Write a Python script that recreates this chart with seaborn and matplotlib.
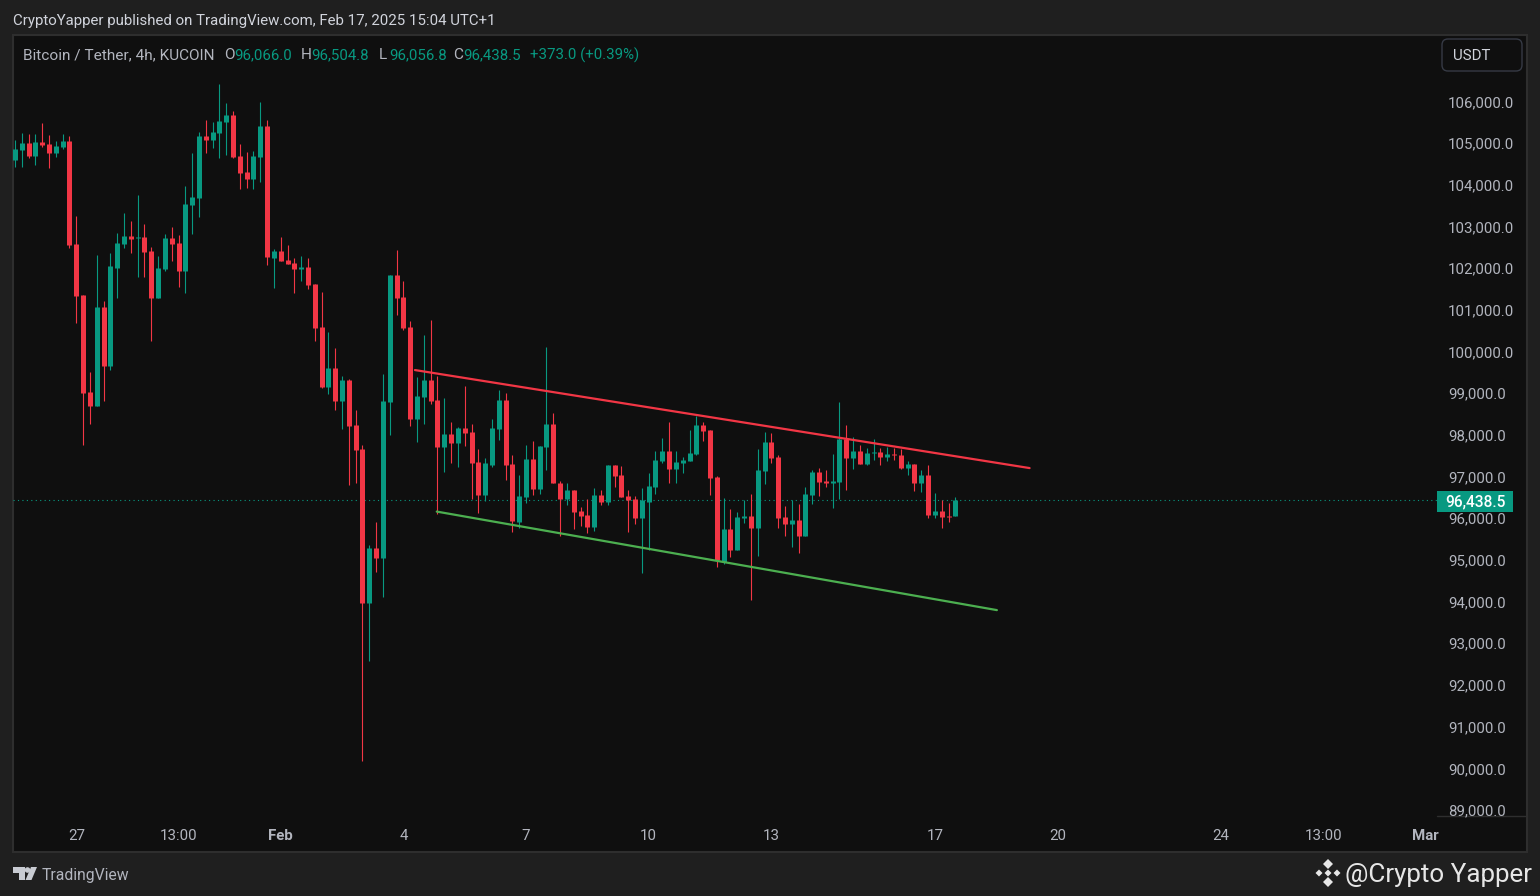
import numpy as np
import pandas as pd
import matplotlib
matplotlib.use("Agg")
import matplotlib.pyplot as plt
import seaborn as sns
from matplotlib.patches import FancyBboxPatch, Polygon, Rectangle, Circle
from matplotlib.transforms import IdentityTransform

# BTC/USDT 4h candles
opens = [104596, 104836, 105004, 104692, 105028, 104980, 104764, 104908, 105052, 102580,
         101356, 99028, 98692, 101068, 99652, 102004, 102580, 102772, 102724, 102748,
         102412, 101284, 101980, 102724, 102604, 101932, 103516, 103684, 105172, 105076,
         105244, 105508, 105676, 104692, 104308, 104140, 104668, 105412, 102244, 102412,
         102196, 102124, 101980, 102028, 101620, 100588, 99148, 99604, 98812, 99316,
         98236, 97660, 93964, 95284, 95044, 98788, 101836, 101308, 100588, 98380,
         98908, 99316, 98836, 97708, 98020, 97804, 98164, 98068, 97348, 96556,
         97276, 98140, 98836, 97300, 95908, 96508, 97420, 96700, 97708, 98260,
         96844, 96460, 96676, 96172, 96076, 95788, 96556, 96388, 97276, 97036,
         96532, 96460, 96004, 96388, 96748, 97372, 97612, 97180, 97324, 97372,
         97540, 98236, 98116, 96988, 94948, 95740, 95236, 96004, 96052, 95764,
         97132, 97828, 97468, 96028, 95860, 95956, 95572, 96556, 97108, 96892,
         96844, 96868, 97900, 97444, 97612, 97300, 97564, 97588, 97468, 97540,
         97516, 97204, 97300, 96844, 97036, 96076, 96172, 96052, 96066]
highs = [105076, 105244, 105220, 105220, 105484, 105196, 105052, 105220, 105172, 103252,
         101356, 99508, 102316, 101212, 102364, 102844, 103324, 103132, 103756, 103060,
         102508, 102292, 102820, 102988, 102796, 103972, 104764, 105268, 105556, 105508,
         106420, 105964, 105772, 104980, 104788, 104812, 105988, 105556, 102460, 102748,
         102556, 102244, 102292, 102244, 101620, 101428, 100468, 100084, 99412, 99340,
         98596, 97756, 95356, 95908, 99460, 101836, 102436, 101692, 100732, 99388,
         100396, 100756, 99412, 98884, 98308, 98188, 99172, 98260, 97660, 97444,
         98380, 99076, 99004, 97516, 97036, 97756, 97852, 97732, 100108, 98524,
         96892, 96844, 96676, 96268, 96460, 96724, 96676, 97276, 97276, 97252,
         96676, 96532, 96724, 97084, 97612, 97924, 98308, 97612, 97468, 98116,
         98452, 98308, 98116, 97012, 96484, 96220, 96148, 96436, 96580, 97660,
         98068, 98044, 97516, 96292, 96436, 96340, 96748, 97156, 97204, 97156,
         97540, 98788, 98236, 97948, 97756, 97684, 97900, 97684, 97708, 97684,
         97660, 97372, 97300, 97156, 97276, 96604, 96436, 96364, 96504.8]
lows = [104428, 104428, 104644, 104476, 104908, 104404, 104668, 104860, 102484, 100684,
        97756, 98260, 98692, 98812, 99556, 101284, 102484, 102364, 101788, 101788,
        100252, 101284, 101932, 102172, 101548, 101404, 102820, 103228, 104764, 104884,
        104644, 104716, 104644, 103900, 103924, 103900, 104068, 102076, 101524, 102172,
        102100, 101404, 101692, 101500, 100252, 99124, 98980, 98596, 98140, 96796,
        96844, 90172, 92572, 94708, 94108, 97996, 100876, 100516, 98212, 97828,
        98260, 98740, 96100, 97108, 97324, 97228, 97732, 96460, 96124, 96412,
        97228, 97876, 96916, 95668, 95764, 96364, 96556, 96580, 97156, 96844,
        95572, 96316, 95740, 95812, 95644, 95692, 96316, 96316, 96748, 96508,
        95668, 95860, 94684, 95236, 96580, 97324, 96844, 96844, 97084, 97372,
        97516, 97852, 96556, 94828, 94900, 95068, 95236, 95884, 94036, 95092,
        96820, 97324, 95764, 95572, 95308, 95164, 95572, 96340, 96532, 96748,
        96244, 96460, 96676, 97180, 97300, 97276, 97396, 97276, 97372, 97396,
        97180, 97036, 96652, 96628, 96004, 96004, 95764, 95908, 96056.8]
closes = [104860, 105004, 104692, 105028, 104956, 104764, 104932, 105052, 102556, 101332,
          99004, 98692, 101068, 99652, 102052, 102604, 102772, 102700, 102748, 102388,
          101284, 102004, 102724, 102580, 101932, 103540, 103708, 105172, 105076, 105268,
          105532, 105676, 104668, 104284, 104140, 104692, 105412, 102268, 102412, 102172,
          102100, 101980, 102028, 101596, 100564, 99148, 99604, 98812, 99316, 98212,
          97636, 93964, 95284, 95044, 98812, 101836, 101284, 100564, 98380, 98932,
          99316, 98812, 97708, 98020, 97804, 98164, 98044, 97324, 96556, 97324,
          98164, 98836, 97276, 95932, 96532, 97420, 96700, 97732, 98260, 96844,
          96460, 96676, 96148, 96052, 95788, 96556, 96388, 97276, 97012, 96508,
          96436, 96004, 96436, 96772, 97396, 97612, 97180, 97348, 97396, 97564,
          98236, 98092, 96964, 94996, 95740, 95236, 96028, 96052, 95764, 97156,
          97828, 97444, 96004, 95860, 95956, 95572, 96580, 97108, 96868, 96844,
          96892, 97900, 97444, 97612, 97300, 97564, 97588, 97468, 97540, 97516,
          97204, 97300, 96844, 97036, 96076, 96172, 96028, 96028, 96438.5]

# drawn channel, bar index / price
upper_x = [58.7, 148.9]
upper_y = [99556, 97204]
lower_x = [61.9, 144.1]
lower_y = [96160, 93796]

last_price = 96438.5
price_ticks = list(range(89000, 107000, 1000))
time_ticks = [9, 24, 39, 57, 75, 93, 111, 135, 153, 177, 192, 207]
time_labels = ["27", "13:00", "Feb", "4", "7", "10", "13", "17", "20", "24", "13:00", "Mar"]

UP, DOWN = "#089981", "#F23645"
OUTER, PANE, EDGE = "#1F1F1F", "#0F0F0F", "#2E2E2E"
GREY, LIGHT = "#B2B5BE", "#D1D4DC"

sns.set_theme(style="dark")
plt.rcParams["font.family"] = ["Roboto", "DejaVu Sans"]

W, H = 1540, 896
fig = plt.figure(figsize=(W / 100, H / 100), dpi=100, facecolor=OUTER)
px = IdentityTransform()


def pt(x, y):
    # screenshot pixels to display coords
    return x, H - y


def txt(x, y, s, size=15, color=GREY, **kw):
    kw.setdefault("va", "center")
    fig.text(x / W, 1 - y / H, s, fontsize=size * 0.72, color=color, **kw)


fig.add_artist(Rectangle(pt(13, 852), 1514, 817, transform=px, fc=PANE, ec=EDGE, lw=1.5, zorder=-2))
fig.add_artist(plt.Line2D([1437, 1527], [H - 816, H - 816], transform=px, color=EDGE, lw=1, zorder=-1))

ax = fig.add_axes([13 / W, 1 - 816 / H, 1424 / W, 781 / H], facecolor="none")

df = pd.DataFrame({"bar": np.arange(len(opens)), "open": opens, "high": highs,
                   "low": lows, "close": closes})
df["dir"] = np.where(df["close"] >= df["open"], "up", "down")
palette = {"up": UP, "down": DOWN}

wicks = df.melt(id_vars=["bar", "dir"], value_vars=["low", "high"], value_name="price")
bodies = df.melt(id_vars=["bar", "dir"], value_vars=["open", "close"], value_name="price")
for part, lw in ((wicks, 0.8), (bodies, 3.6)):
    sns.lineplot(data=part, x="bar", y="price", hue="dir", units="bar", estimator=None,
                 palette=palette, sort=False, lw=lw, legend=False, ax=ax,
                 solid_capstyle="butt", zorder=3)

sns.lineplot(x=upper_x, y=upper_y, color=DOWN, lw=1.6, ax=ax, zorder=4)
sns.lineplot(x=lower_x, y=lower_y, color="#4CAF50", lw=1.6, ax=ax, zorder=4)
ax.axhline(last_price, color=UP, lw=0.8, ls=(0, (1, 3)), zorder=2)

ax.set_xlim(-0.29, 208.69)
ax.set_ylim(88856, 107595)
ax.grid(False)
ax.set_xlabel("")
ax.set_ylabel("")
for s in ax.spines.values():
    s.set_visible(False)
ax.yaxis.tick_right()
ax.set_yticks(price_ticks)
ax.set_yticklabels([f"{v:,.1f}" for v in price_ticks], fontsize=10.8, color=GREY)
ax.set_xticks(time_ticks)
ax.set_xticklabels(time_labels, fontsize=10.8, color=GREY)
ax.tick_params(axis="y", length=0, pad=8)
ax.tick_params(axis="x", length=0, pad=9.5)
for lab in ax.get_xticklabels():
    if lab.get_text() in ("Feb", "Mar"):
        lab.set_fontweight("bold")

# last price tag
fig.add_artist(Rectangle(pt(1437, 512), 76, 21, transform=px, fc=UP, ec="none", zorder=5))
txt(1475, 501.5, "96,438.5", size=15.5, color="white", ha="center", fontweight="medium", zorder=6)

# header and OHLC row
txt(13, 20.5, "CryptoYapper published on TradingView.com, Feb 17, 2025 15:04 UTC+1", color=LIGHT)
txt(23, 55, "Bitcoin / Tether, 4h, KUCOIN", size=15.4)
for x, s in ((224, "O"), (301, "H"), (379, "L"), (453, "C")):
    txt(x, 55, s, size=15.4)
for x, s in ((234, "96,066.0"), (311, "96,504.8"), (389, "96,056.8"), (463, "96,438.5"),
             (530, "+373.0 (+0.39%)")):
    txt(x, 55, s, size=15, color=UP)

# currency button
fig.add_artist(FancyBboxPatch(pt(1446, 67), 72, 24, boxstyle="round,pad=4,rounding_size=6",
                              transform=px, fc=PANE, ec="#363A45", lw=1))
txt(1453, 56, "USDT", color=LIGHT)

# TradingView logo + name
logo = "#C8CBD2"
fig.add_artist(Polygon([pt(13, 867), pt(25, 867), pt(25, 880), pt(19, 880), pt(19, 873), pt(13, 873)],
                       transform=px, fc=logo, ec="none"))
fig.add_artist(Circle(pt(27.5, 870), 2.8, transform=px, fc=logo, ec="none"))
fig.add_artist(Polygon([pt(31, 867), pt(37, 867), pt(31.5, 880), pt(25.5, 880)],
                       transform=px, fc=logo, ec="none"))
txt(42, 875, "TradingView", size=15.8, color=GREY)

# watermark: four chevrons round a centre diamond
mark = "#E6E6E6"
for cx, cy in ((1328, 864), (1328, 882), (1319, 873), (1337, 873), (1328, 873)):
    r = 5 if cx == 1328 and cy != 873 else 3.5
    fig.add_artist(Polygon([pt(cx, cy - r), pt(cx + r, cy), pt(cx, cy + r), pt(cx - r, cy)],
                           transform=px, fc=mark, ec="none"))
txt(1345, 874.5, "@Crypto Yapper", size=26, color=mark)

fig.savefig("out.png", dpi=100, facecolor=OUTER)
